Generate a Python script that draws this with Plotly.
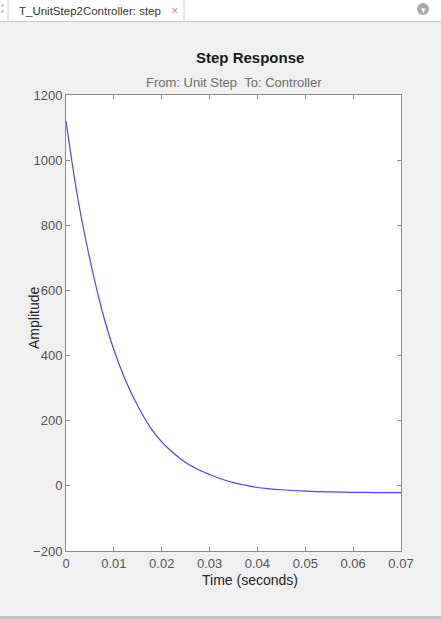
import plotly.graph_objs as go

# step response
time_s = [0, 0.0025, 0.005, 0.0075, 0.01, 0.0125, 0.015, 0.0175, 0.02, 0.0225,
          0.025, 0.0275, 0.03, 0.0325, 0.035, 0.0375, 0.04, 0.0425, 0.045,
          0.05, 0.055, 0.06, 0.065, 0.07]
amplitude = [1120, 880, 695, 540, 418, 322, 245, 182, 135, 100,
             72, 51, 35, 21, 10, 2, -5, -9, -12,
             -16, -18.5, -20, -20.5, -21]
x_ticks = [0, 0.01, 0.02, 0.03, 0.04, 0.05, 0.06, 0.07]
x_labels = ['0', '0.01', '0.02', '0.03', '0.04', '0.05', '0.06', '0.07']
y_ticks = [-200, 0, 200, 400, 600, 800, 1000, 1200]

W, H = 441, 619
L, R, T, B = 66, 401, 95, 551  # plot box in page pixels


def px(x):
  return (x - L) / (R - L)


def py(y):
  return (B - y) / (B - T)


trace = go.Scatter(x=time_s, y=amplitude, mode='lines',
                   line=dict(color='#4646ff', width=1.2, shape='spline'),
                   hoverinfo='skip', showlegend=False)

axis_common = dict(showgrid=False, zeroline=False, showline=True,
                   linecolor='#8c8c8c', linewidth=1, mirror='ticks',
                   ticks='inside', ticklen=4, tickcolor='#8c8c8c',
                   tickfont=dict(family='Liberation Sans, Arial', size=13, color='#555555'))

shapes = [
  # tab strip
  dict(type='rect', xref='paper', yref='paper', x0=px(0), x1=px(W), y0=py(0), y1=py(21),
       fillcolor='white', line=dict(width=0), layer='below'),
  dict(type='line', xref='paper', yref='paper', x0=px(0), x1=px(W), y0=py(21.5), y1=py(21.5),
       line=dict(color='#c8c8c8', width=1)),
  dict(type='line', xref='paper', yref='paper', x0=px(8), x1=px(8), y0=py(0), y1=py(21),
       line=dict(color='#d4d4d4', width=1)),
  dict(type='line', xref='paper', yref='paper', x0=px(184), x1=px(184), y0=py(0), y1=py(21),
       line=dict(color='#d4d4d4', width=1)),
  dict(type='line', xref='paper', yref='paper', x0=px(2.5), x1=px(2.5), y0=py(4), y1=py(16),
       line=dict(color='#c0c0c0', width=2, dash='dot')),
  dict(type='circle', xref='paper', yref='paper', x0=px(417), x1=px(429), y0=py(3), y1=py(15),
       fillcolor='#a8a8a8', line=dict(width=0)),
  # bottom border
  dict(type='rect', xref='paper', yref='paper', x0=px(0), x1=px(W), y0=py(616), y1=py(H),
       fillcolor='#c4c4c4', line=dict(width=0)),
]

annotations = [
  dict(text='T_UnitStep2Controller: step', x=px(17), y=py(10.5), xref='paper', yref='paper',
       xanchor='left', yanchor='middle', showarrow=False,
       font=dict(family='Liberation Sans, Arial', size=11.5, color='#333333')),
  dict(text='×', x=px(175), y=py(10.5), xref='paper', yref='paper',
       xanchor='center', yanchor='middle', showarrow=False,
       font=dict(family='Liberation Sans, Arial', size=13, color='#a0a0a0')),
  dict(text='▾', x=px(423), y=py(9.5), xref='paper', yref='paper',
       xanchor='center', yanchor='middle', showarrow=False,
       font=dict(family='DejaVu Sans', size=9, color='white')),
  dict(text='<b>Step Response</b>', x=px(250), y=py(58), xref='paper', yref='paper',
       xanchor='center', yanchor='middle', showarrow=False,
       font=dict(family='Liberation Sans, Arial', size=15, color='#1a1a1a')),
  dict(text='From: Unit Step\u00a0\u00a0To: Controller', x=0.5, y=py(83), xref='paper', yref='paper',
       xanchor='center', yanchor='middle', showarrow=False,
       font=dict(family='Liberation Sans, Arial', size=13, color='#6e6e6e')),
  dict(text='Time (seconds)', x=px(250), y=py(580), xref='paper', yref='paper',
       xanchor='center', yanchor='middle', showarrow=False,
       font=dict(family='Liberation Sans, Arial', size=14, color='#262626')),
  dict(text='Amplitude', x=px(34), y=py(318), xref='paper', yref='paper', textangle=-90,
       xanchor='center', yanchor='middle', showarrow=False,
       font=dict(family='Liberation Sans, Arial', size=14, color='#262626')),
]

layout = go.Layout(
    width=W, height=H,
    margin=dict(l=L, r=W - R, t=T, b=H - B, pad=0),
    paper_bgcolor='#f0f0f0', plot_bgcolor='white',
    xaxis=dict(range=[0, 0.07], tickvals=x_ticks, ticktext=x_labels, **axis_common),
    yaxis=dict(range=[-200, 1200], tickvals=y_ticks, **axis_common),
    shapes=shapes, annotations=annotations,
)

fig = go.Figure(data=[trace], layout=layout)
# drop the browser's default body margin so the figure sits at the page corner
fig.write_html("out.html", config={'displayModeBar': False},
               post_script="document.body.style.margin='0';document.body.style.overflow='hidden';")
